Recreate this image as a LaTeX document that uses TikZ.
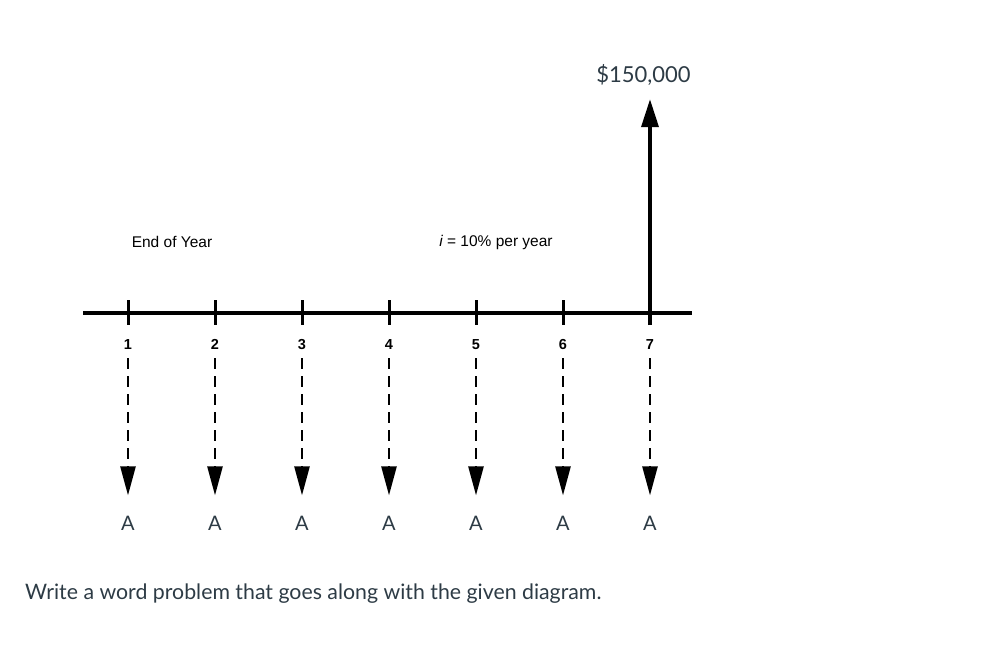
\documentclass[tikz,border=0pt]{standalone}
\usepackage{fontspec}
\setmainfont{Liberation Sans}
\newfontfamily\lato{Lato}
\usetikzlibrary{arrows.meta}
\definecolor{canvastext}{HTML}{2D3B45}
\begin{document}
\begin{tikzpicture}[x=1pt,y=-1pt,
  axisline/.style={line width=3.5pt},
  tickmark/.style={line width=3pt},
  yearnum/.style={font=\fontsize{14.5}{16}\selectfont\bfseries, inner sep=0pt, text height=10.5pt, text depth=0pt, anchor=base},
  payment/.style={font=\lato\fontsize{20}{23}\selectfont, text=canvastext, inner sep=0pt, text height=14.4pt, text depth=0pt, anchor=base},
  smalllabel/.style={font=\fontsize{15.5}{18}\selectfont, inner sep=0pt},
  flowdown/.style={line width=2.5pt, dash pattern=on 11pt off 7pt,
    -{Triangle[width=15pt,length=29pt]}, shorten <=9pt, shorten >=20pt},
  flowup/.style={line width=3.5pt, -{Triangle[width=17pt,length=28pt]}, shorten >=13pt}
]
\useasboundingbox (0,0) rectangle (1004,658);
% time axis
\coordinate (axL) at (83,313);
\coordinate (axR) at (692,313);
\draw[axisline] (axL) -- (axR);
% ticks, year numbers, payments
\foreach \k/\xx in {1/128,2/215,3/302,4/389,5/476,6/563,7/650}{
  \coordinate (tt\k) at (\xx,300);
  \coordinate (tb\k) at (\xx,325);
  \draw[tickmark] (tt\k) -- (tb\k);
  \node[yearnum] (n\k) at (\xx,349) {\k};
  \node[payment] (a\k) at (\xx,530) {A};
  \draw[flowdown] (n\k) -- (a\k);
}
% future amount
\node[payment, font=\lato\fontsize{22}{26}\selectfont, text height=, text depth=] (fv) at (643.5,83) {\$150,000};
\draw[flowup] (tb7) -- (tb7 |- fv.south);
% labels
\node[smalllabel] (eoy) at (172,242) {End of Year};
\node[smalllabel] (rate) at (496,242) {{\itshape i} = 10\% per year};
\node[font=\lato\fontsize{21.3}{25}\selectfont, text=canvastext, anchor=base west, inner sep=0pt] (task) at (25,599) {Write a word problem that goes along with the given diagram.};
\end{tikzpicture}
\end{document}
